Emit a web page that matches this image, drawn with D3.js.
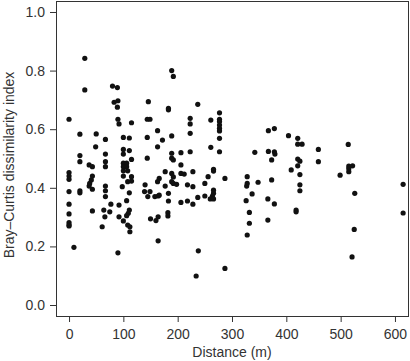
<!DOCTYPE html>
<html>
<head>
<meta charset="utf-8">
<script src="https://cdn.jsdelivr.net/npm/d3@7"></script>
<style>
  body { margin: 0; background: #fff; }
  svg { display: block; font-family: "Liberation Sans", Arial, sans-serif; }
</style>
</head>
<body>
<div class="chart"></div>
<script>
// distance (m) and Bray-Curtis dissimilarity
const distance = [
  0, 0, 0, 0, 0, 0, 0, 0, 0, 0,
  9, 20, 20, 20, 20, 20, 29, 29, 37, 37, 38, 41, 43, 43, 43, 43,
  49, 50, 61, 64, 66, 67, 67, 67, 67, 67, 67, 67, 75, 77,
  80, 89, 83, 90, 89, 90, 92, 92, 92, 90,
  189, 192, 146, 183, 183, 115, 144, 149, 163, 100, 111, 144, 172, 189, 163,
  100, 100, 111, 115, 144, 189, 189, 192, 100, 106, 100, 106, 100, 108, 100,
  115, 108, 115, 98, 111, 166, 163, 177, 189, 192, 189, 192, 140, 177, 139, 149,
  145, 158, 164, 166, 183, 183, 106, 111, 109, 106, 100, 108, 112, 112,
  150, 160, 164, 182, 182, 164,
  237, 223, 223, 223, 261, 277, 277, 277, 277, 277, 277, 277, 261, 277, 206, 223,
  206, 198, 206, 212, 228, 256, 266, 266, 287, 218, 228, 250, 266, 266, 264,
  260, 266, 237, 250, 206, 218, 228, 238, 287, 234,
  367, 378, 404, 342, 367, 378, 379, 373, 328, 373, 328, 327, 348, 337, 326,
  366, 378, 332, 332, 366, 328,
  421, 421, 429, 459, 514, 421, 425, 421, 459, 409, 425, 499, 425, 425, 418, 418,
  515, 522, 515, 515, 526, 525, 521, 615, 615
];
const dissimilarity = [
  0.634, 0.452, 0.440, 0.429, 0.387, 0.344, 0.311, 0.281, 0.273, 0.270,
  0.197, 0.583, 0.510, 0.489, 0.390, 0.383, 0.842, 0.734, 0.478, 0.406, 0.415, 0.427, 0.472, 0.440, 0.395, 0.321,
  0.540, 0.584, 0.267, 0.324, 0.301, 0.565, 0.515, 0.489, 0.472, 0.406, 0.390, 0.370, 0.318, 0.344,
  0.747, 0.742, 0.692, 0.697, 0.675, 0.634, 0.618, 0.341, 0.301, 0.178,
  0.800, 0.780, 0.694, 0.671, 0.666, 0.622, 0.634, 0.634, 0.595, 0.572, 0.570, 0.572, 0.563, 0.577, 0.540,
  0.531, 0.515, 0.527, 0.497, 0.501, 0.518, 0.501, 0.495, 0.484, 0.484, 0.472, 0.472, 0.458, 0.458, 0.440,
  0.438, 0.421, 0.423, 0.404, 0.383, 0.432, 0.421, 0.455, 0.449, 0.437, 0.421, 0.415, 0.410, 0.406, 0.387, 0.387,
  0.370, 0.370, 0.372, 0.375, 0.381, 0.355, 0.356, 0.324, 0.313, 0.305, 0.287, 0.273, 0.267, 0.250,
  0.294, 0.288, 0.301, 0.315, 0.304, 0.219,
  0.685, 0.637, 0.618, 0.586, 0.631, 0.656, 0.634, 0.626, 0.614, 0.603, 0.594, 0.569, 0.538, 0.523, 0.520, 0.523,
  0.478, 0.412, 0.449, 0.447, 0.455, 0.438, 0.463, 0.457, 0.432, 0.410, 0.404, 0.415, 0.392, 0.381, 0.372,
  0.362, 0.362, 0.367, 0.372, 0.350, 0.355, 0.344, 0.185, 0.125, 0.099,
  0.595, 0.602, 0.578, 0.521, 0.524, 0.523, 0.515, 0.495, 0.438, 0.427, 0.415, 0.406, 0.419, 0.379, 0.356,
  0.362, 0.345, 0.316, 0.279, 0.290, 0.239,
  0.569, 0.549, 0.549, 0.531, 0.548, 0.498, 0.491, 0.475, 0.489, 0.461, 0.445, 0.443, 0.410, 0.390, 0.324, 0.318,
  0.474, 0.475, 0.466, 0.455, 0.381, 0.258, 0.164, 0.412, 0.314
];
const xTicks = [0, 100, 200, 300, 400, 500, 600];
const yTicks = [0, 0.2, 0.4, 0.6, 0.8, 1.0];

const data = distance.map((d, i) => ({ dist: d, bc: dissimilarity[i] }));

const W = 410, H = 361;
const box = { left: 56, right: 408, top: 1, bottom: 316 };

const svg = d3.select('.chart')
  .append('svg')
  .attr('width', W)
  .attr('height', H);

const xScale = d3.scaleLinear()
  .domain([-24, 624])
  .range([box.left, box.right]);

const yScale = d3.scaleLinear()
  .domain([-0.0375, 1.0375])
  .range([box.bottom, box.top]);

const xAxis = d3.axisBottom(xScale)
  .tickValues(xTicks)
  .tickSize(6)
  .tickPadding(7)
  .tickFormat(d3.format('d'));

const yAxis = d3.axisLeft(yScale)
  .tickValues(yTicks)
  .tickSize(6)
  .tickPadding(5)
  .tickFormat(d3.format('.1f'));

const gx = svg.append('g')
  .attr('transform', `translate(0, ${box.bottom})`)
  .call(xAxis);

const gy = svg.append('g')
  .attr('transform', `translate(${box.left}, 0)`)
  .call(yAxis);

[gx, gy].forEach(g => {
  g.select('.domain').remove();
  g.selectAll('.tick line').attr('stroke', '#333');
  g.selectAll('.tick text')
    .attr('fill', '#333')
    .style('font-size', '14px')
    .style('font-family', '"Liberation Sans", Arial, sans-serif');
});

// plot frame
svg.append('rect')
  .attr('x', box.left + 0.5)
  .attr('y', box.top + 0.5)
  .attr('width', box.right - box.left)
  .attr('height', box.bottom - box.top)
  .attr('fill', 'none')
  .attr('stroke', '#333')
  .attr('stroke-width', 1);

svg.append('g')
  .selectAll('circle')
  .data(data)
  .enter()
  .append('circle')
  .attr('cx', d => xScale(d.dist))
  .attr('cy', d => yScale(d.bc))
  .attr('r', 2.6)
  .attr('fill', '#111');

svg.append('text')
  .attr('x', (box.left + box.right) / 2)
  .attr('y', 357)
  .attr('text-anchor', 'middle')
  .attr('fill', '#333')
  .style('font-size', '14px')
  .text('Distance (m)');

svg.append('text')
  .attr('transform', 'translate(13.5, 165) rotate(-90)')
  .attr('text-anchor', 'middle')
  .attr('fill', '#333')
  .style('font-size', '14px')
  .text('Bray–Curtis dissimilarity index');
</script>
</body>
</html>
